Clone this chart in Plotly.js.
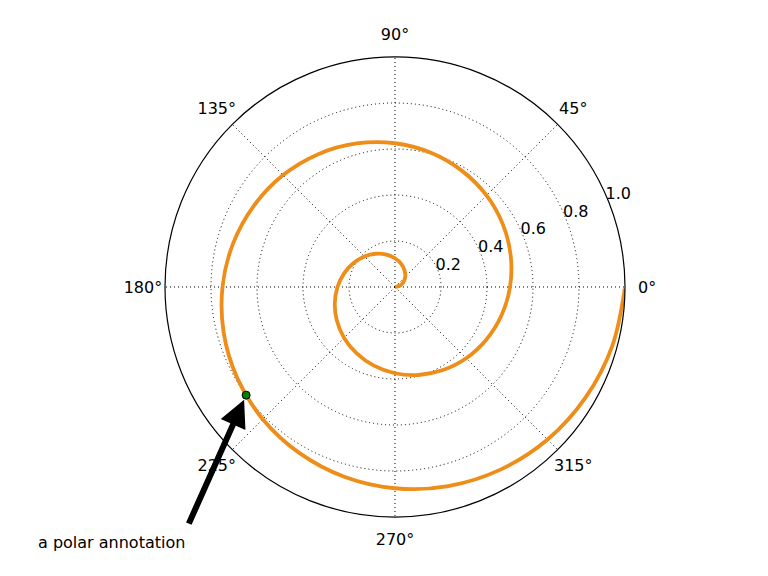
<!DOCTYPE html>
<html><head><meta charset="utf-8">
<script src="https://cdn.plot.ly/plotly-3.0.1.min.js"></script>
<style>body{margin:0;background:#fff}#c{width:768px;height:576px}</style>
</head><body><div id="c"></div>
<script>
// spiral: angle (degrees, unwrapped) and radius
var spiralTheta = [0,15,30,45,60,75,90,105,120,135,150,165,180,195,210,225,240,255,270,285,300,315,330,345,
  360,375,390,405,420,435,450,465,480,495,510,525,540,555,570,585,600,615,630,645,660,675,690,705,719.6];
var spiralR = [0,0.021,0.042,0.063,0.083,0.104,0.125,0.146,0.167,0.188,0.208,0.229,0.25,0.271,0.292,0.313,0.333,0.354,0.375,0.396,0.417,0.438,0.458,0.479,
  0.5,0.521,0.542,0.563,0.583,0.604,0.625,0.646,0.667,0.688,0.708,0.729,0.75,0.771,0.792,0.813,0.833,0.854,0.875,0.896,0.917,0.938,0.958,0.979,0.999];
var pointTheta = [216];
var pointR = [0.8];
var angleTicks = [0,45,90,135,180,225,270,315];
var angleLabels = ['0°','45°','90°','135°','180°','225°','270°','315°'];
var radialTicks = [0.2,0.4,0.6,0.8,1.0];
var radialLabels = ['0.2','0.4','0.6','0.8','1.0'];
var annotationText = 'a polar annotation';

var W = 768, H = 576;
var dom = {x:[165/W, 625/W], y:[1-517/H, 1-57/H]};
var cx = (dom.x[0]+dom.x[1])/2, cy = (dom.y[0]+dom.y[1])/2;
var Rx = (dom.x[1]-dom.x[0])/2, Ry = (dom.y[1]-dom.y[0])/2;
var rad = pointTheta[0]*Math.PI/180;
var px = cx + pointR[0]*Rx*Math.cos(rad);
var py = cy + pointR[0]*Ry*Math.sin(rad);

var font = {family:'DejaVu Sans', size:16, color:'#000'};
var data = [
  {type:'scatterpolar', mode:'lines', r:spiralR, theta:spiralTheta,
   line:{color:'#ee8d18', width:3.8, shape:'spline'}, hoverinfo:'skip'},
  {type:'scatterpolar', mode:'markers', r:pointR, theta:pointTheta,
   marker:{color:'#008000', size:8, line:{color:'#000', width:1}}}
];
var layout = {
  width:W, height:H, margin:{l:0,r:0,t:0,b:0}, showlegend:false,
  paper_bgcolor:'#fff', font:font,
  polar:{
    domain:dom, bgcolor:'#fff',
    angularaxis:{tickmode:'array', tickvals:angleTicks, ticktext:angleLabels, direction:'counterclockwise', rotation:0,
      showline:true, linecolor:'#000', linewidth:1.2, ticks:'outside', ticklen:10, tickcolor:'rgba(0,0,0,0)',
      gridcolor:'#000', griddash:'1px,3px', gridwidth:1, tickfont:font},
    radialaxis:{range:[0,1], tickmode:'array', tickvals:radialTicks, ticktext:radialLabels, angle:22.5, tickangle:22.5,
      side:'counterclockwise', showline:false, ticks:'', gridcolor:'#000', griddash:'1px,3px', gridwidth:1, tickfont:font}
  },
  annotations:[
    {xref:'paper', yref:'paper', x:px, y:py, ax:-58, ay:130, text:'', showarrow:true,
     arrowhead:2, arrowsize:0.9, arrowwidth:6, arrowcolor:'#000', standoff:5},
    {xref:'paper', yref:'paper', x:111/W, y:1-542/H, text:annotationText, showarrow:false,
     font:font, xanchor:'center', yanchor:'middle'}
  ]
};
function shiftText(t, sx, sy){
  var m = t.parentNode.getCTM();
  if (!m) return;
  var det = m.a*m.d - m.b*m.c;
  var lx = ( m.d*sx - m.c*sy)/det;
  var ly = (-m.b*sx + m.a*sy)/det;
  var prev = t.getAttribute('transform') || '';
  t.setAttribute('transform', 'translate(' + lx + ',' + ly + ') ' + prev);
}
Plotly.newPlot('c', data, layout, {staticPlot:true}).then(function(gd){
  var host = gd.getBoundingClientRect();
  var ccx = cx*W, ccy = (1-cy)*H, labelR = 1.096*Rx*W;
  gd.querySelectorAll('text').forEach(function(t){
    var s = t.textContent;
    if (radialLabels.indexOf(s) >= 0) {
      // radial labels sit on the axis, just outside each circle
      shiftText(t, 28, 3);
    } else {
      var k = angleLabels.indexOf(s);
      if (k < 0) return;
      // angular labels centred on a circle just outside the frame
      var a = angleTicks[k]*Math.PI/180;
      var b = t.getBoundingClientRect();
      var bx = b.left - host.left + b.width/2, by = b.top - host.top + b.height/2;
      shiftText(t, ccx + labelR*Math.cos(a) - bx, ccy - labelR*Math.sin(a) - by);
    }
  });
});
</script></body></html>
